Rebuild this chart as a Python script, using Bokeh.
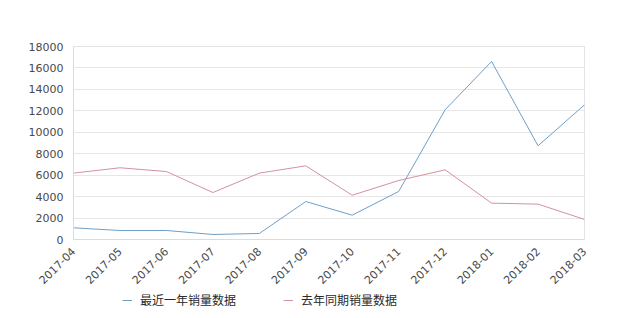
from bokeh.plotting import figure
from bokeh.layouts import column
from bokeh.models import Range1d, FixedTicker, Legend, LegendItem, ColumnDataSource
from bokeh.embed import file_html
from bokeh.resources import INLINE
import math

months = ["2017-04", "2017-05", "2017-06", "2017-07", "2017-08", "2017-09",
          "2017-10", "2017-11", "2017-12", "2018-01", "2018-02", "2018-03"]
recent = [1090, 840, 840, 470, 560, 3540, 2270, 4480, 12100, 16600, 8740, 12560]
last_year = [6190, 6690, 6340, 4380, 6190, 6870, 4130, 5500, 6500, 3390, 3300, 1870]
y_ticks = list(range(0, 18001, 2000))
series_names = ["最近一年销量数据", "去年同期销量数据"]
colors = ["#6f9ec8", "#d4919e"]

idx = list(range(len(months)))
src = ColumnDataSource(dict(x=idx, recent=recent, last_year=last_year))

p = figure(width=620, height=290, output_backend="svg", toolbar_location=None,
           x_range=Range1d(0, len(months) - 1), y_range=Range1d(0, 18000),
           min_border_left=73, min_border_right=36, min_border_top=46,
           min_border_bottom=51)

p.background_fill_color = "white"
p.border_fill_color = "white"
p.outline_line_color = "#e4e4e4"

p.line("x", "recent", source=src, line_color=colors[0], line_width=1)
p.line("x", "last_year", source=src, line_color=colors[1], line_width=1)

p.xaxis.ticker = FixedTicker(ticks=idx)
p.xaxis.major_label_overrides = {i: m for i, m in enumerate(months)}
p.xaxis.major_label_orientation = math.pi / 4
p.yaxis.ticker = FixedTicker(ticks=y_ticks)

for ax in (p.xaxis[0], p.yaxis[0]):
    ax.axis_line_color = "#dcdcdc"
    ax.major_tick_line_color = None
    ax.minor_tick_line_color = None
    ax.major_label_text_font = "DejaVu Sans"
    ax.major_label_text_font_size = "11px"
    ax.major_label_text_color = "#4a4a4a"
    ax.major_label_standoff = 4

p.xgrid.grid_line_color = None
p.ygrid.grid_line_color = "#e6e6e6"
p.ygrid.ticker = FixedTicker(ticks=y_ticks)

# legend strip below the chart
lg = figure(width=620, height=28, output_backend="svg", toolbar_location=None,
            x_range=Range1d(0, 1), y_range=Range1d(-10, -9),
            min_border_left=0, min_border_right=0, min_border_top=0,
            min_border_bottom=0, x_axis_type=None, y_axis_type=None)
lg.outline_line_color = None
lg.xgrid.visible = False
lg.ygrid.visible = False
# legend-only renderers kept outside the visible range
h1 = lg.line("x", "recent", source=src, line_color=colors[0], line_width=1)
h2 = lg.line("x", "last_year", source=src, line_color=colors[1], line_width=1)

legend = Legend(items=[LegendItem(label=series_names[0], renderers=[h1]),
                       LegendItem(label=series_names[1], renderers=[h2])],
                orientation="horizontal", location=(49, 10),
                label_text_font="Noto Sans CJK SC", label_text_font_size="12px",
                label_text_color="#2a2a2a", glyph_width=10, glyph_height=16,
                label_standoff=8, spacing=47, background_fill_alpha=0,
                border_line_color=None, padding=0, margin=0)
lg.add_layout(legend, "center")

layout = column(p, lg, spacing=0)
open("out.html", "w").write(file_html(layout, INLINE))
